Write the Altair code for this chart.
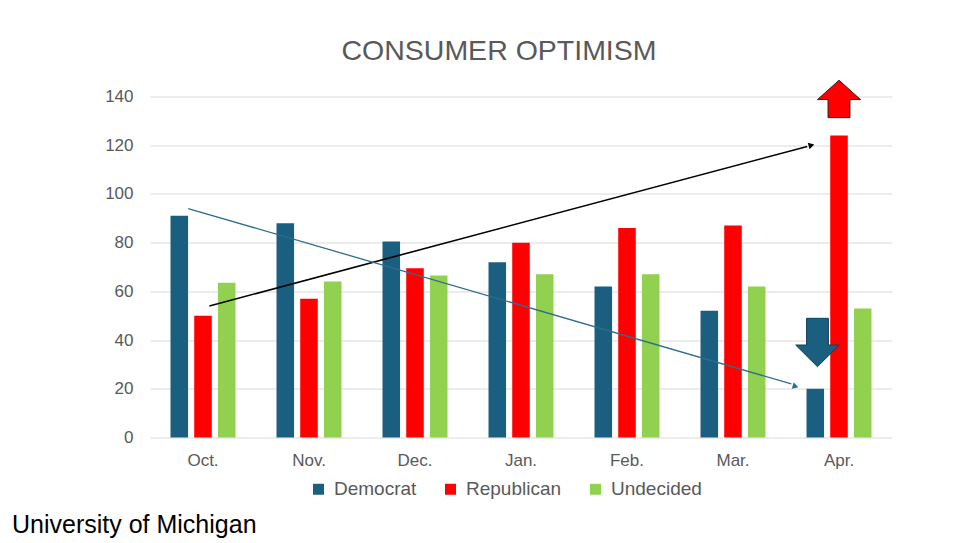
import altair as alt
import pandas as pd

months = ["Oct.", "Nov.", "Dec.", "Jan.", "Feb.", "Mar.", "Apr."]
parties = ["Democrat", "Republican", "Undecided"]
democrat = [91, 88, 80.5, 72, 62, 52, 20]
republican = [50, 57, 69.5, 80, 86, 87, 124]
undecided = [63.5, 64, 66.5, 67, 67, 62, 53]
colors = ["#1A5E80", "#FF0000", "#92D050"]

# annotation lines (x in category units 0..7, y in data units)
up_line_x = [0.56, 6.20]
up_line_y = [54, 119.5]
down_line_x = [0.36, 6.05]
down_line_y = [94, 22]
head_x = [6.24, 6.09]
head_y = [120, 21]
head_angle = [345, 16]
head_color = ["#000000", "#2E6E8C"]
up_block_x = [6.5]
up_block_y = [139]
down_block_x = [6.297]
down_block_y = [39]

title_text = ["CONSUMER OPTIMISM"]
footer_text = ["University of Michigan"]

FONT = "Liberation Sans, Arial, sans-serif"

rows = []
for i, m in enumerate(months):
    rows.append({"month": m, "party": "Democrat", "value": democrat[i]})
    rows.append({"month": m, "party": "Republican", "value": republican[i]})
    rows.append({"month": m, "party": "Undecided", "value": undecided[i]})
df = pd.DataFrame(rows)

yscale = alt.Scale(domain=[0, 140], nice=False)
xq = alt.Scale(domain=[0, 7], nice=False, zero=False)
yaxis = alt.Axis(values=list(range(0, 141, 20)), title=None, ticks=False,
                 domain=False, gridColor="#D9D9D9", labelFontSize=17,
                 labelColor="#595959", labelPadding=17, labelFont=FONT)

bars = alt.Chart(df).mark_bar().encode(
    x=alt.X("month:N", sort=months,
            scale=alt.Scale(paddingInner=0.387, paddingOuter=0.1935),
            axis=alt.Axis(title=None, labelAngle=0, ticks=False, domain=False,
                          labelFontSize=17, labelColor="#595959", labelPadding=15,
                          labelFont=FONT)),
    xOffset=alt.XOffset("party:N", sort=parties,
                        scale=alt.Scale(paddingInner=0.26, paddingOuter=0)),
    y=alt.Y("value:Q", scale=yscale, axis=yaxis),
    color=alt.Color("party:N", sort=parties,
                    scale=alt.Scale(domain=parties, range=colors),
                    legend=alt.Legend(title=None, orient="none", direction="horizontal",
                                      legendX=159, legendY=383, symbolType="square",
                                      symbolSize=121, symbolStrokeWidth=0,
                                      labelFontSize=19, labelColor="#595959",
                                      labelFont=FONT, labelOffset=6, columnPadding=24)),
)

up_df = pd.DataFrame({"x": up_line_x, "y": up_line_y})
down_df = pd.DataFrame({"x": down_line_x, "y": down_line_y})
heads_df = pd.DataFrame({"x": head_x, "y": head_y, "angle": head_angle, "c": head_color})

up_line = alt.Chart(up_df).mark_line(color="#000000", strokeWidth=1.6).encode(
    x=alt.X("x:Q", scale=xq, axis=None), y=alt.Y("y:Q", scale=yscale, axis=yaxis))
down_line = alt.Chart(down_df).mark_line(color="#2E6E8C", strokeWidth=1.3).encode(
    x=alt.X("x:Q", scale=xq, axis=None), y=alt.Y("y:Q", scale=yscale, axis=yaxis))
heads = alt.Chart(heads_df).mark_point(shape="triangle-right", filled=True, size=45, opacity=1).encode(
    x=alt.X("x:Q", scale=xq, axis=None), y=alt.Y("y:Q", scale=yscale, axis=yaxis),
    angle=alt.Angle("angle:Q", scale=None), color=alt.Color("c:N", scale=None))

up_block = alt.Chart(pd.DataFrame({"x": up_block_x, "y": up_block_y})).mark_point(
    shape="M0,-0.87 L1,0.03 L0.51,0.03 L0.51,0.87 L-0.51,0.87 L-0.51,0.03 L-1,0.03 Z",
    filled=True, fill="#FF0000", stroke="#3a1a1a", strokeWidth=1, size=1849, opacity=1
).encode(x=alt.X("x:Q", scale=xq, axis=None), y=alt.Y("y:Q", scale=yscale, axis=yaxis))

down_block = alt.Chart(pd.DataFrame({"x": down_block_x, "y": down_block_y})).mark_point(
    shape="M-0.5,-1.11 L0.5,-1.11 L0.5,0.115 L1,0.115 L0,1.11 L-1,0.115 L-0.5,0.115 Z",
    filled=True, fill="#1A5E80", stroke="#123f57", strokeWidth=1, size=1900, opacity=1
).encode(x=alt.X("x:Q", scale=xq, axis=None), y=alt.Y("y:Q", scale=yscale, axis=yaxis))

title = alt.Chart(pd.DataFrame({"t": title_text})).mark_text(
    fontSize=28.5, color="#595959", font=FONT, align="center", baseline="middle"
).encode(text="t:N", x=alt.value(349), y=alt.value(-46))

footer = alt.Chart(pd.DataFrame({"t": footer_text})).mark_text(
    fontSize=25, color="#000000", font=FONT, align="left", baseline="middle"
).encode(text="t:N", x=alt.value(-138), y=alt.value(428))

chart = alt.layer(bars, up_line, down_line, heads, up_block, down_block, title, footer).resolve_scale(
    x="independent"
).properties(
    width=742, height=341,
    background="white",
    autosize=alt.AutoSizeParams(type="none"),
    padding={"left": 142, "top": 88.5, "right": 50, "bottom": 104},
).configure_view(strokeWidth=0, stroke="transparent")

chart.save("out.html", embed_options={"renderer": "svg", "actions": False})
